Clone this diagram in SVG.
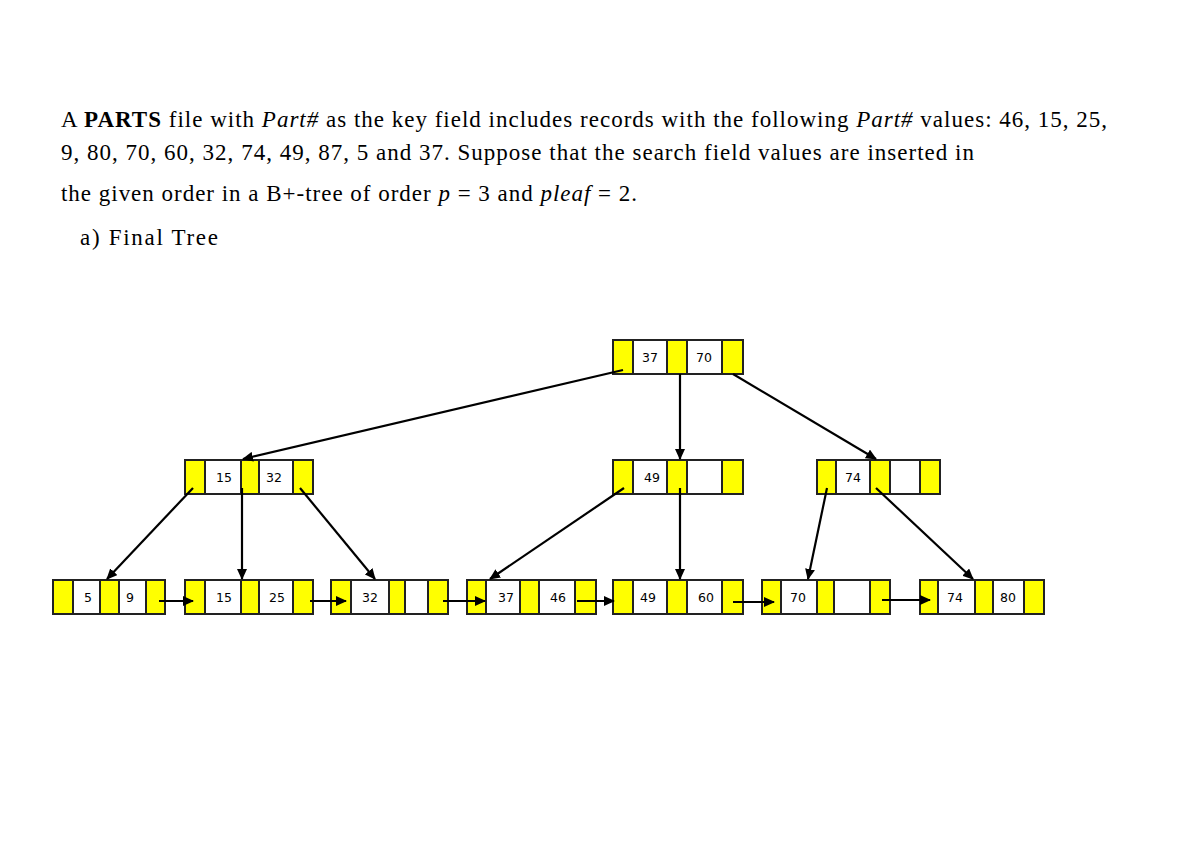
<svg xmlns="http://www.w3.org/2000/svg" width="1200" height="849" viewBox="0 0 1200 849">
<style>
.t{font-family:"Liberation Serif",serif;font-size:23px;fill:#000}
.y{fill:#ffff00;stroke:#222;stroke-width:2}
.w{fill:#fff;stroke:#222;stroke-width:2}
.k{font-family:"DejaVu Sans",sans-serif;font-size:12.5px;fill:#000;text-anchor:middle}
.c line{stroke:#000;stroke-width:2.2;marker-end:url(#a)}
</style>
<defs>
<marker id="a" markerWidth="11" markerHeight="10" refX="10" refY="5" orient="auto" markerUnits="userSpaceOnUse" viewBox="0 0 11 10"><path d="M0,0 L11,5 L0,10 z" fill="#000"/></marker>
</defs>
<rect width="1200" height="849" fill="#fff"/>
<text class="t" x="61" y="127" textLength="1046" lengthAdjust="spacing">A <tspan font-weight="bold">PARTS</tspan> file with <tspan font-style="italic">Part#</tspan> as the key field includes records with the following <tspan font-style="italic">Part#</tspan> values: 46, 15, 25,</text>
<text class="t" x="61" y="160" textLength="913" lengthAdjust="spacing">9, 80, 70, 60, 32, 74, 49, 87, 5 and 37. Suppose that the search field values are inserted in</text>
<text class="t" x="61" y="201" textLength="576" lengthAdjust="spacing">the given order in a B+-tree of order <tspan font-style="italic">p</tspan> = 3 and <tspan font-style="italic">pleaf</tspan> = 2.</text>
<text class="t" x="80" y="245" textLength="138" lengthAdjust="spacing">a) Final Tree</text>

<g id="root"><rect class="y" x="613" y="340" width="20" height="34"/><rect class="w" x="633" y="340" width="34" height="34"/><rect class="y" x="667" y="340" width="20" height="34"/><rect class="w" x="687" y="340" width="35" height="34"/><rect class="y" x="722" y="340" width="21" height="34"/><text class="k" x="650" y="362">37</text><text class="k" x="704" y="362">70</text></g>

<g id="i1"><rect class="y" x="185" y="460" width="20" height="34"/><rect class="w" x="205" y="460" width="36" height="34"/><rect class="y" x="241" y="460" width="18" height="34"/><rect class="w" x="259" y="460" width="34" height="34"/><rect class="y" x="293" y="460" width="20" height="34"/><text class="k" x="224" y="482">15</text><text class="k" x="274" y="482">32</text></g>
<g id="i2"><rect class="y" x="613" y="460" width="20" height="34"/><rect class="w" x="633" y="460" width="34" height="34"/><rect class="y" x="667" y="460" width="20" height="34"/><rect class="w" x="687" y="460" width="35" height="34"/><rect class="y" x="722" y="460" width="21" height="34"/><text class="k" x="652" y="482">49</text></g>
<g id="i3"><rect class="y" x="817" y="460" width="19" height="34"/><rect class="w" x="836" y="460" width="34" height="34"/><rect class="y" x="870" y="460" width="20" height="34"/><rect class="w" x="890" y="460" width="30" height="34"/><rect class="y" x="920" y="460" width="20" height="34"/><text class="k" x="853" y="482">74</text></g>

<g id="l1"><rect class="y" x="53" y="580" width="20" height="34"/><rect class="w" x="73" y="580" width="27" height="34"/><rect class="y" x="100" y="580" width="19" height="34"/><rect class="w" x="119" y="580" width="27" height="34"/><rect class="y" x="146" y="580" width="19" height="34"/><text class="k" x="88" y="602">5</text><text class="k" x="130" y="602">9</text></g>
<g id="l2"><rect class="y" x="185" y="580" width="20" height="34"/><rect class="w" x="205" y="580" width="36" height="34"/><rect class="y" x="241" y="580" width="18" height="34"/><rect class="w" x="259" y="580" width="34" height="34"/><rect class="y" x="293" y="580" width="20" height="34"/><text class="k" x="224" y="602">15</text><text class="k" x="277" y="602">25</text></g>
<g id="l3"><rect class="y" x="331" y="580" width="20" height="34"/><rect class="w" x="351" y="580" width="38" height="34"/><rect class="y" x="389" y="580" width="16" height="34"/><rect class="w" x="405" y="580" width="23" height="34"/><rect class="y" x="428" y="580" width="20" height="34"/><text class="k" x="370" y="602">32</text></g>
<g id="l4"><rect class="y" x="467" y="580" width="19" height="34"/><rect class="w" x="486" y="580" width="34" height="34"/><rect class="y" x="520" y="580" width="19" height="34"/><rect class="w" x="539" y="580" width="36" height="34"/><rect class="y" x="575" y="580" width="21" height="34"/><text class="k" x="506" y="602">37</text><text class="k" x="558" y="602">46</text></g>
<g id="l5"><rect class="y" x="613" y="580" width="20" height="34"/><rect class="w" x="633" y="580" width="34" height="34"/><rect class="y" x="667" y="580" width="20" height="34"/><rect class="w" x="687" y="580" width="35" height="34"/><rect class="y" x="722" y="580" width="21" height="34"/><text class="k" x="648" y="602">49</text><text class="k" x="706" y="602">60</text></g>
<g id="l6"><rect class="y" x="762" y="580" width="19" height="34"/><rect class="w" x="781" y="580" width="36" height="34"/><rect class="y" x="817" y="580" width="17" height="34"/><rect class="w" x="834" y="580" width="36" height="34"/><rect class="y" x="870" y="580" width="20" height="34"/><text class="k" x="798" y="602">70</text></g>
<g id="l7"><rect class="y" x="920" y="580" width="18" height="34"/><rect class="w" x="938" y="580" width="37" height="34"/><rect class="y" x="975" y="580" width="18" height="34"/><rect class="w" x="993" y="580" width="31" height="34"/><rect class="y" x="1024" y="580" width="20" height="34"/><text class="k" x="955" y="602">74</text><text class="k" x="1008" y="602">80</text></g>

<g id="connectors" class="c">
<line x1="623" y1="370" x2="243" y2="459"/>
<line x1="680" y1="374" x2="680" y2="459"/>
<line x1="733" y1="374" x2="876" y2="459"/>
<line x1="193" y1="488" x2="107" y2="579"/>
<line x1="242" y1="488" x2="242" y2="579"/>
<line x1="300" y1="488" x2="375" y2="579"/>
<line x1="624" y1="488" x2="490" y2="579"/>
<line x1="680" y1="488" x2="680" y2="579"/>
<line x1="827" y1="488" x2="808" y2="579"/>
<line x1="876" y1="488" x2="973" y2="579"/>
<line x1="159" y1="601" x2="193" y2="601"/>
<line x1="310" y1="601" x2="346" y2="601"/>
<line x1="443" y1="601" x2="485" y2="601"/>
<line x1="577" y1="601" x2="614" y2="601"/>
<line x1="733" y1="602" x2="774" y2="602"/>
<line x1="882" y1="600" x2="930" y2="600"/>
</g>
</svg>
